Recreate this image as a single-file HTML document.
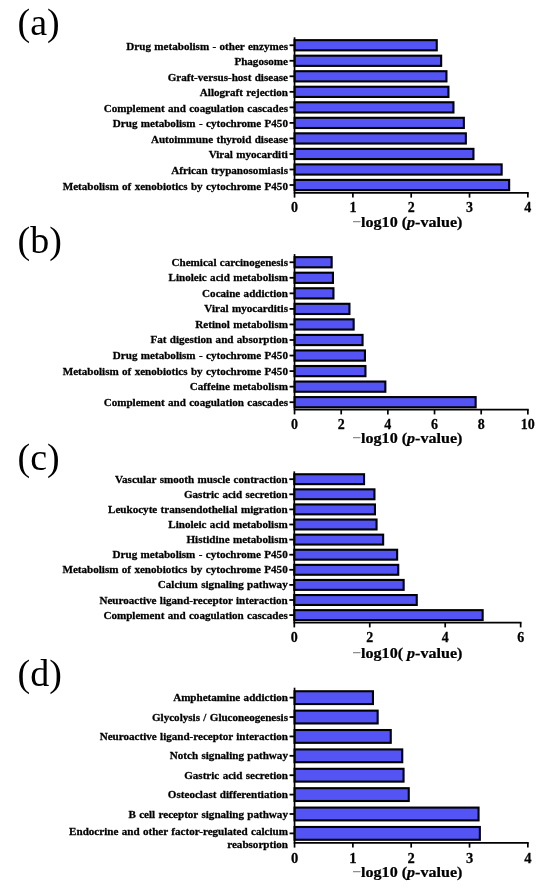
<!DOCTYPE html><html><head><meta charset="utf-8"><title>Figure</title><style>html,body{margin:0;padding:0;background:#fff}svg{display:block}text{font-family:"Liberation Serif","Times New Roman",serif;fill:#000}.b{font-weight:bold;stroke:#000;stroke-width:0.25px}</style></head><body>
<svg width="550" height="892" viewBox="0 0 550 892">
<rect width="550" height="892" fill="#fff"/>
<text x="17.5" y="35.4" font-size="38">(a)</text>
<rect x="294.55" y="40.15" width="142.20" height="10.20" fill="#5454f4" stroke="#000" stroke-width="2.1"/>
<line x1="289.55" y1="45.25" x2="294.55" y2="45.25" stroke="#000" stroke-width="1.8"/>
<text class="b" transform="translate(287.95,49.75) scale(1.078,1)" font-size="10.3" text-anchor="end" word-spacing="0.55">Drug metabolism - other enzymes</text>
<rect x="294.55" y="55.68" width="146.60" height="10.20" fill="#5454f4" stroke="#000" stroke-width="2.1"/>
<line x1="289.55" y1="60.78" x2="294.55" y2="60.78" stroke="#000" stroke-width="1.8"/>
<text class="b" transform="translate(287.95,65.28) scale(1.078,1)" font-size="10.3" text-anchor="end" word-spacing="0.55">Phagosome</text>
<rect x="294.55" y="71.21" width="151.90" height="10.20" fill="#5454f4" stroke="#000" stroke-width="2.1"/>
<line x1="289.55" y1="76.31" x2="294.55" y2="76.31" stroke="#000" stroke-width="1.8"/>
<text class="b" transform="translate(287.95,80.81) scale(1.078,1)" font-size="10.3" text-anchor="end" word-spacing="0.55">Graft-versus-host disease</text>
<rect x="294.55" y="86.74" width="153.90" height="10.20" fill="#5454f4" stroke="#000" stroke-width="2.1"/>
<line x1="289.55" y1="91.84" x2="294.55" y2="91.84" stroke="#000" stroke-width="1.8"/>
<text class="b" transform="translate(287.95,96.34) scale(1.078,1)" font-size="10.3" text-anchor="end" word-spacing="0.55">Allograft rejection</text>
<rect x="294.55" y="102.27" width="158.90" height="10.20" fill="#5454f4" stroke="#000" stroke-width="2.1"/>
<line x1="289.55" y1="107.37" x2="294.55" y2="107.37" stroke="#000" stroke-width="1.8"/>
<text class="b" transform="translate(287.95,111.87) scale(1.078,1)" font-size="10.3" text-anchor="end" word-spacing="0.55">Complement and coagulation cascades</text>
<rect x="294.55" y="117.80" width="169.30" height="10.20" fill="#5454f4" stroke="#000" stroke-width="2.1"/>
<line x1="289.55" y1="122.90" x2="294.55" y2="122.90" stroke="#000" stroke-width="1.8"/>
<text class="b" transform="translate(287.95,127.40) scale(1.078,1)" font-size="10.3" text-anchor="end" word-spacing="0.55">Drug metabolism - cytochrome P450</text>
<rect x="294.55" y="133.33" width="171.30" height="10.20" fill="#5454f4" stroke="#000" stroke-width="2.1"/>
<line x1="289.55" y1="138.43" x2="294.55" y2="138.43" stroke="#000" stroke-width="1.8"/>
<text class="b" transform="translate(287.95,142.93) scale(1.078,1)" font-size="10.3" text-anchor="end" word-spacing="0.55">Autoimmune thyroid disease</text>
<rect x="294.55" y="148.86" width="178.90" height="10.20" fill="#5454f4" stroke="#000" stroke-width="2.1"/>
<line x1="289.55" y1="153.96" x2="294.55" y2="153.96" stroke="#000" stroke-width="1.8"/>
<text class="b" transform="translate(287.95,158.46) scale(1.078,1)" font-size="10.3" text-anchor="end" word-spacing="0.55">Viral myocarditi</text>
<rect x="294.55" y="164.39" width="207.10" height="10.20" fill="#5454f4" stroke="#000" stroke-width="2.1"/>
<line x1="289.55" y1="169.49" x2="294.55" y2="169.49" stroke="#000" stroke-width="1.8"/>
<text class="b" transform="translate(287.95,173.99) scale(1.078,1)" font-size="10.3" text-anchor="end" word-spacing="0.55">African trypanosomiasis</text>
<rect x="294.55" y="179.92" width="214.60" height="10.20" fill="#5454f4" stroke="#000" stroke-width="2.1"/>
<line x1="289.55" y1="185.02" x2="294.55" y2="185.02" stroke="#000" stroke-width="1.8"/>
<text class="b" transform="translate(287.95,189.52) scale(1.078,1)" font-size="10.3" text-anchor="end" word-spacing="0.55">Metabolism of xenobiotics by cytochrome P450</text>
<line x1="294.55" y1="37.30" x2="294.55" y2="197.60" stroke="#000" stroke-width="1.7"/>
<line x1="293.7" y1="192.8" x2="528.7" y2="192.8" stroke="#000" stroke-width="1.8"/>
<text class="b" transform="translate(294.55,212.40) scale(0.966,1)" font-size="14.5" text-anchor="middle" >0</text>
<line x1="352.88" y1="192.8" x2="352.88" y2="197.60000000000002" stroke="#000" stroke-width="1.7"/>
<text class="b" transform="translate(352.88,212.40) scale(0.966,1)" font-size="14.5" text-anchor="middle" >1</text>
<line x1="411.20" y1="192.8" x2="411.20" y2="197.60000000000002" stroke="#000" stroke-width="1.7"/>
<text class="b" transform="translate(411.20,212.40) scale(0.966,1)" font-size="14.5" text-anchor="middle" >2</text>
<line x1="469.53" y1="192.8" x2="469.53" y2="197.60000000000002" stroke="#000" stroke-width="1.7"/>
<text class="b" transform="translate(469.53,212.40) scale(0.966,1)" font-size="14.5" text-anchor="middle" >3</text>
<line x1="527.85" y1="192.8" x2="527.85" y2="197.60000000000002" stroke="#000" stroke-width="1.7"/>
<text class="b" transform="translate(527.85,212.40) scale(0.966,1)" font-size="14.5" text-anchor="middle" >4</text>
<text class="b" transform="translate(407.20,226.80) scale(1.065,1)" font-size="15.1" text-anchor="middle" xml:space="preserve"><tspan font-weight="normal" stroke="none" fill="#444">−</tspan>log10 (<tspan font-style="italic">p</tspan>-value)</text>
<text x="17.5" y="252.6" font-size="38">(b)</text>
<rect x="294.55" y="257.15" width="37.10" height="10.20" fill="#5454f4" stroke="#000" stroke-width="2.1"/>
<line x1="289.55" y1="262.25" x2="294.55" y2="262.25" stroke="#000" stroke-width="1.8"/>
<text class="b" transform="translate(287.95,265.65) scale(1.078,1)" font-size="10.3" text-anchor="end" word-spacing="0.55">Chemical carcinogenesis</text>
<rect x="294.55" y="272.70" width="38.40" height="10.20" fill="#5454f4" stroke="#000" stroke-width="2.1"/>
<line x1="289.55" y1="277.80" x2="294.55" y2="277.80" stroke="#000" stroke-width="1.8"/>
<text class="b" transform="translate(287.95,281.20) scale(1.078,1)" font-size="10.3" text-anchor="end" word-spacing="0.55">Linoleic acid metabolism</text>
<rect x="294.55" y="288.25" width="38.90" height="10.20" fill="#5454f4" stroke="#000" stroke-width="2.1"/>
<line x1="289.55" y1="293.35" x2="294.55" y2="293.35" stroke="#000" stroke-width="1.8"/>
<text class="b" transform="translate(287.95,296.75) scale(1.078,1)" font-size="10.3" text-anchor="end" word-spacing="0.55">Cocaine addiction</text>
<rect x="294.55" y="303.80" width="54.90" height="10.20" fill="#5454f4" stroke="#000" stroke-width="2.1"/>
<line x1="289.55" y1="308.90" x2="294.55" y2="308.90" stroke="#000" stroke-width="1.8"/>
<text class="b" transform="translate(287.95,312.30) scale(1.078,1)" font-size="10.3" text-anchor="end" word-spacing="0.55">Viral myocarditis</text>
<rect x="294.55" y="319.35" width="59.10" height="10.20" fill="#5454f4" stroke="#000" stroke-width="2.1"/>
<line x1="289.55" y1="324.45" x2="294.55" y2="324.45" stroke="#000" stroke-width="1.8"/>
<text class="b" transform="translate(287.95,327.85) scale(1.078,1)" font-size="10.3" text-anchor="end" word-spacing="0.55">Retinol metabolism</text>
<rect x="294.55" y="334.90" width="68.00" height="10.20" fill="#5454f4" stroke="#000" stroke-width="2.1"/>
<line x1="289.55" y1="340.00" x2="294.55" y2="340.00" stroke="#000" stroke-width="1.8"/>
<text class="b" transform="translate(287.95,343.40) scale(1.078,1)" font-size="10.3" text-anchor="end" word-spacing="0.55">Fat digestion and absorption</text>
<rect x="294.55" y="350.45" width="70.40" height="10.20" fill="#5454f4" stroke="#000" stroke-width="2.1"/>
<line x1="289.55" y1="355.55" x2="294.55" y2="355.55" stroke="#000" stroke-width="1.8"/>
<text class="b" transform="translate(287.95,358.95) scale(1.078,1)" font-size="10.3" text-anchor="end" word-spacing="0.55">Drug metabolism - cytochrome P450</text>
<rect x="294.55" y="366.00" width="70.90" height="10.20" fill="#5454f4" stroke="#000" stroke-width="2.1"/>
<line x1="289.55" y1="371.10" x2="294.55" y2="371.10" stroke="#000" stroke-width="1.8"/>
<text class="b" transform="translate(287.95,374.50) scale(1.078,1)" font-size="10.3" text-anchor="end" word-spacing="0.55">Metabolism of xenobiotics by cytochrome P450</text>
<rect x="294.55" y="381.55" width="90.80" height="10.20" fill="#5454f4" stroke="#000" stroke-width="2.1"/>
<line x1="289.55" y1="386.65" x2="294.55" y2="386.65" stroke="#000" stroke-width="1.8"/>
<text class="b" transform="translate(287.95,390.05) scale(1.078,1)" font-size="10.3" text-anchor="end" word-spacing="0.55">Caffeine metabolism</text>
<rect x="294.55" y="397.10" width="181.10" height="10.20" fill="#5454f4" stroke="#000" stroke-width="2.1"/>
<line x1="289.55" y1="402.20" x2="294.55" y2="402.20" stroke="#000" stroke-width="1.8"/>
<text class="b" transform="translate(287.95,405.60) scale(1.078,1)" font-size="10.3" text-anchor="end" word-spacing="0.55">Complement and coagulation cascades</text>
<line x1="294.55" y1="254.10" x2="294.55" y2="414.40" stroke="#000" stroke-width="1.7"/>
<line x1="293.7" y1="409.6" x2="528.7" y2="409.6" stroke="#000" stroke-width="1.8"/>
<text class="b" transform="translate(294.55,429.20) scale(0.966,1)" font-size="14.5" text-anchor="middle" >0</text>
<line x1="341.21" y1="409.6" x2="341.21" y2="414.40000000000003" stroke="#000" stroke-width="1.7"/>
<text class="b" transform="translate(341.21,429.20) scale(0.966,1)" font-size="14.5" text-anchor="middle" >2</text>
<line x1="387.87" y1="409.6" x2="387.87" y2="414.40000000000003" stroke="#000" stroke-width="1.7"/>
<text class="b" transform="translate(387.87,429.20) scale(0.966,1)" font-size="14.5" text-anchor="middle" >4</text>
<line x1="434.53" y1="409.6" x2="434.53" y2="414.40000000000003" stroke="#000" stroke-width="1.7"/>
<text class="b" transform="translate(434.53,429.20) scale(0.966,1)" font-size="14.5" text-anchor="middle" >6</text>
<line x1="481.19" y1="409.6" x2="481.19" y2="414.40000000000003" stroke="#000" stroke-width="1.7"/>
<text class="b" transform="translate(481.19,429.20) scale(0.966,1)" font-size="14.5" text-anchor="middle" >8</text>
<line x1="527.85" y1="409.6" x2="527.85" y2="414.40000000000003" stroke="#000" stroke-width="1.7"/>
<text class="b" transform="translate(527.85,429.20) scale(0.966,1)" font-size="14.5" text-anchor="middle" >10</text>
<text class="b" transform="translate(407.20,442.90) scale(1.065,1)" font-size="15.1" text-anchor="middle" xml:space="preserve"><tspan font-weight="normal" stroke="none" fill="#444">−</tspan>log10 (<tspan font-style="italic">p</tspan>-value)</text>
<text x="17.5" y="469.6" font-size="38">(c)</text>
<rect x="294.3" y="474.25" width="69.75" height="9.90" fill="#5454f4" stroke="#000" stroke-width="2.1"/>
<line x1="289.3" y1="479.20" x2="294.3" y2="479.20" stroke="#000" stroke-width="1.8"/>
<text class="b" transform="translate(287.70,482.70) scale(1.078,1)" font-size="10.3" text-anchor="end" word-spacing="0.55">Vascular smooth muscle contraction</text>
<rect x="294.3" y="489.35" width="80.15" height="9.90" fill="#5454f4" stroke="#000" stroke-width="2.1"/>
<line x1="289.3" y1="494.30" x2="294.3" y2="494.30" stroke="#000" stroke-width="1.8"/>
<text class="b" transform="translate(287.70,497.80) scale(1.078,1)" font-size="10.3" text-anchor="end" word-spacing="0.55">Gastric acid secretion</text>
<rect x="294.3" y="504.45" width="80.65" height="9.90" fill="#5454f4" stroke="#000" stroke-width="2.1"/>
<line x1="289.3" y1="509.40" x2="294.3" y2="509.40" stroke="#000" stroke-width="1.8"/>
<text class="b" transform="translate(287.70,512.90) scale(1.078,1)" font-size="10.3" text-anchor="end" word-spacing="0.55">Leukocyte transendothelial migration</text>
<rect x="294.3" y="519.55" width="82.25" height="9.90" fill="#5454f4" stroke="#000" stroke-width="2.1"/>
<line x1="289.3" y1="524.50" x2="294.3" y2="524.50" stroke="#000" stroke-width="1.8"/>
<text class="b" transform="translate(287.70,528.00) scale(1.078,1)" font-size="10.3" text-anchor="end" word-spacing="0.55">Linoleic acid metabolism</text>
<rect x="294.3" y="534.65" width="88.85" height="9.90" fill="#5454f4" stroke="#000" stroke-width="2.1"/>
<line x1="289.3" y1="539.60" x2="294.3" y2="539.60" stroke="#000" stroke-width="1.8"/>
<text class="b" transform="translate(287.70,543.10) scale(1.078,1)" font-size="10.3" text-anchor="end" word-spacing="0.55">Histidine metabolism</text>
<rect x="294.3" y="549.75" width="102.85" height="9.90" fill="#5454f4" stroke="#000" stroke-width="2.1"/>
<line x1="289.3" y1="554.70" x2="294.3" y2="554.70" stroke="#000" stroke-width="1.8"/>
<text class="b" transform="translate(287.70,558.20) scale(1.078,1)" font-size="10.3" text-anchor="end" word-spacing="0.55">Drug metabolism - cytochrome P450</text>
<rect x="294.3" y="564.85" width="103.95" height="9.90" fill="#5454f4" stroke="#000" stroke-width="2.1"/>
<line x1="289.3" y1="569.80" x2="294.3" y2="569.80" stroke="#000" stroke-width="1.8"/>
<text class="b" transform="translate(287.70,573.30) scale(1.078,1)" font-size="10.3" text-anchor="end" word-spacing="0.55">Metabolism of xenobiotics by cytochrome P450</text>
<rect x="294.3" y="579.95" width="109.35" height="9.90" fill="#5454f4" stroke="#000" stroke-width="2.1"/>
<line x1="289.3" y1="584.90" x2="294.3" y2="584.90" stroke="#000" stroke-width="1.8"/>
<text class="b" transform="translate(287.70,588.40) scale(1.078,1)" font-size="10.3" text-anchor="end" word-spacing="0.55">Calcium signaling pathway</text>
<rect x="294.3" y="595.05" width="122.45" height="9.90" fill="#5454f4" stroke="#000" stroke-width="2.1"/>
<line x1="289.3" y1="600.00" x2="294.3" y2="600.00" stroke="#000" stroke-width="1.8"/>
<text class="b" transform="translate(287.70,603.50) scale(1.078,1)" font-size="10.3" text-anchor="end" word-spacing="0.55">Neuroactive ligand-receptor interaction</text>
<rect x="294.3" y="610.15" width="188.35" height="9.90" fill="#5454f4" stroke="#000" stroke-width="2.1"/>
<line x1="289.3" y1="615.10" x2="294.3" y2="615.10" stroke="#000" stroke-width="1.8"/>
<text class="b" transform="translate(287.70,618.60) scale(1.078,1)" font-size="10.3" text-anchor="end" word-spacing="0.55">Complement and coagulation cascades</text>
<line x1="294.3" y1="471.40" x2="294.3" y2="627.40" stroke="#000" stroke-width="1.7"/>
<line x1="293.45" y1="622.6" x2="521.5" y2="622.6" stroke="#000" stroke-width="1.8"/>
<text class="b" transform="translate(294.30,642.20) scale(0.966,1)" font-size="14.5" text-anchor="middle" >0</text>
<line x1="369.75" y1="622.6" x2="369.75" y2="627.4" stroke="#000" stroke-width="1.7"/>
<text class="b" transform="translate(369.75,642.20) scale(0.966,1)" font-size="14.5" text-anchor="middle" >2</text>
<line x1="445.20" y1="622.6" x2="445.20" y2="627.4" stroke="#000" stroke-width="1.7"/>
<text class="b" transform="translate(445.20,642.20) scale(0.966,1)" font-size="14.5" text-anchor="middle" >4</text>
<line x1="520.65" y1="622.6" x2="520.65" y2="627.4" stroke="#000" stroke-width="1.7"/>
<text class="b" transform="translate(520.65,642.20) scale(0.966,1)" font-size="14.5" text-anchor="middle" >6</text>
<text class="b" transform="translate(407.20,657.90) scale(1.065,1)" font-size="15.1" text-anchor="middle" xml:space="preserve"><tspan font-weight="normal" stroke="none" fill="#444">−</tspan>log10( <tspan font-style="italic">p</tspan>-value)</text>
<text x="17.5" y="686.4" font-size="38">(d)</text>
<rect x="294.55" y="691.25" width="78.40" height="12.80" fill="#5454f4" stroke="#000" stroke-width="2.1"/>
<line x1="289.55" y1="697.65" x2="294.55" y2="697.65" stroke="#000" stroke-width="1.8"/>
<text class="b" transform="translate(287.95,701.25) scale(1.078,1)" font-size="10.3" text-anchor="end" word-spacing="0.55">Amphetamine addiction</text>
<rect x="294.55" y="710.64" width="83.10" height="12.80" fill="#5454f4" stroke="#000" stroke-width="2.1"/>
<line x1="289.55" y1="717.04" x2="294.55" y2="717.04" stroke="#000" stroke-width="1.8"/>
<text class="b" transform="translate(287.95,720.64) scale(1.078,1)" font-size="10.3" text-anchor="end" word-spacing="0.55">Glycolysis / Gluconeogenesis</text>
<rect x="294.55" y="730.03" width="96.20" height="12.80" fill="#5454f4" stroke="#000" stroke-width="2.1"/>
<line x1="289.55" y1="736.43" x2="294.55" y2="736.43" stroke="#000" stroke-width="1.8"/>
<text class="b" transform="translate(287.95,740.03) scale(1.078,1)" font-size="10.3" text-anchor="end" word-spacing="0.55">Neuroactive ligand-receptor interaction</text>
<rect x="294.55" y="749.42" width="107.70" height="12.80" fill="#5454f4" stroke="#000" stroke-width="2.1"/>
<line x1="289.55" y1="755.82" x2="294.55" y2="755.82" stroke="#000" stroke-width="1.8"/>
<text class="b" transform="translate(287.95,759.42) scale(1.078,1)" font-size="10.3" text-anchor="end" word-spacing="0.55">Notch signaling pathway</text>
<rect x="294.55" y="768.81" width="109.00" height="12.80" fill="#5454f4" stroke="#000" stroke-width="2.1"/>
<line x1="289.55" y1="775.21" x2="294.55" y2="775.21" stroke="#000" stroke-width="1.8"/>
<text class="b" transform="translate(287.95,778.81) scale(1.078,1)" font-size="10.3" text-anchor="end" word-spacing="0.55">Gastric acid secretion</text>
<rect x="294.55" y="788.20" width="114.20" height="12.80" fill="#5454f4" stroke="#000" stroke-width="2.1"/>
<line x1="289.55" y1="794.60" x2="294.55" y2="794.60" stroke="#000" stroke-width="1.8"/>
<text class="b" transform="translate(287.95,798.20) scale(1.078,1)" font-size="10.3" text-anchor="end" word-spacing="0.55">Osteoclast differentiation</text>
<rect x="294.55" y="807.59" width="184.00" height="12.80" fill="#5454f4" stroke="#000" stroke-width="2.1"/>
<line x1="289.55" y1="813.99" x2="294.55" y2="813.99" stroke="#000" stroke-width="1.8"/>
<text class="b" transform="translate(287.95,817.59) scale(1.078,1)" font-size="10.3" text-anchor="end" word-spacing="0.55">B cell receptor signaling pathway</text>
<rect x="294.55" y="826.98" width="185.30" height="12.80" fill="#5454f4" stroke="#000" stroke-width="2.1"/>
<line x1="289.55" y1="833.38" x2="294.55" y2="833.38" stroke="#000" stroke-width="1.8"/>
<text class="b" transform="translate(287.95,835.48) scale(1.078,1)" font-size="10.3" text-anchor="end" word-spacing="0.55">Endocrine and other factor-regulated calcium</text>
<text class="b" transform="translate(287.95,848.48) scale(1.078,1)" font-size="10.3" text-anchor="end" >reabsorption</text>
<line x1="294.55" y1="687.70" x2="294.55" y2="847.60" stroke="#000" stroke-width="1.7"/>
<line x1="293.7" y1="842.8" x2="528.7" y2="842.8" stroke="#000" stroke-width="1.8"/>
<text class="b" transform="translate(294.55,862.70) scale(0.966,1)" font-size="15.1" text-anchor="middle" >0</text>
<line x1="352.88" y1="842.8" x2="352.88" y2="847.5999999999999" stroke="#000" stroke-width="1.7"/>
<text class="b" transform="translate(352.88,862.70) scale(0.966,1)" font-size="15.1" text-anchor="middle" >1</text>
<line x1="411.20" y1="842.8" x2="411.20" y2="847.5999999999999" stroke="#000" stroke-width="1.7"/>
<text class="b" transform="translate(411.20,862.70) scale(0.966,1)" font-size="15.1" text-anchor="middle" >2</text>
<line x1="469.53" y1="842.8" x2="469.53" y2="847.5999999999999" stroke="#000" stroke-width="1.7"/>
<text class="b" transform="translate(469.53,862.70) scale(0.966,1)" font-size="15.1" text-anchor="middle" >3</text>
<line x1="527.85" y1="842.8" x2="527.85" y2="847.5999999999999" stroke="#000" stroke-width="1.7"/>
<text class="b" transform="translate(527.85,862.70) scale(0.966,1)" font-size="15.1" text-anchor="middle" >4</text>
<text class="b" transform="translate(407.20,876.80) scale(1.065,1)" font-size="15.1" text-anchor="middle" xml:space="preserve"><tspan font-weight="normal" stroke="none" fill="#444">−</tspan>log10 (<tspan font-style="italic">p</tspan>-value)</text>
</svg></body></html>
